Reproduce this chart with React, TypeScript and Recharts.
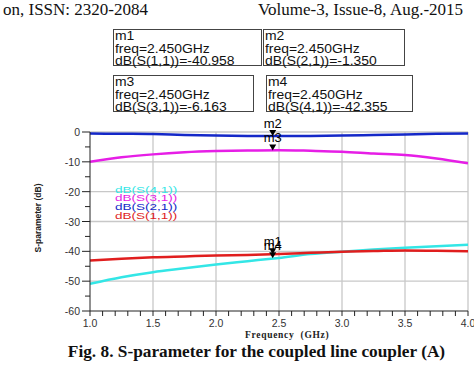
import React from 'react';
import { LineChart, Line, XAxis, YAxis, ReferenceLine, ReferenceDot } from 'recharts';

// ---- data ----
const freqGHz = [1.0, 1.25, 1.5, 1.75, 2.0, 2.25, 2.5, 2.75, 3.0, 3.25, 3.5, 3.75, 4.0];
const s11 = [-43.1, -42.5, -42.0, -41.7, -41.4, -41.2, -40.9, -40.5, -40.1, -39.9, -39.7, -39.8, -40.0];
const s21 = [-0.5, -0.6, -0.7, -1.0, -1.2, -1.3, -1.35, -1.3, -1.2, -1.0, -0.8, -0.6, -0.5];
const s31 = [-10.0, -8.5, -7.5, -6.8, -6.4, -6.2, -6.1, -6.3, -6.6, -7.2, -7.7, -8.9, -10.5];
const s41 = [-50.9, -48.7, -47.0, -45.7, -44.4, -43.3, -42.2, -40.9, -40.1, -39.4, -38.8, -38.3, -37.8];

const xTicks = [1.0, 1.1, 1.2, 1.3, 1.4, 1.5, 1.6, 1.7, 1.8, 1.9, 2.0, 2.1, 2.2, 2.3, 2.4, 2.5, 2.6, 2.7, 2.8, 2.9, 3.0, 3.1, 3.2, 3.3, 3.4, 3.5, 3.6, 3.7, 3.8, 3.9, 4.0];
const xMajor = [1.0, 1.5, 2.0, 2.5, 3.0, 3.5, 4.0];
const xGrid = [1.5, 2.0, 2.5, 3.0, 3.5, 4.0];
const yTicks = [0, -5, -10, -15, -20, -25, -30, -35, -40, -45, -50, -55, -60];
const yMajor = [0, -10, -20, -30, -40, -50, -60];
const yGrid = [0, -10, -20, -30, -40, -50];

const traceNames = ['dB(S(4,1))', 'dB(S(3,1))', 'dB(S(2,1))', 'dB(S(1,1))'];
const traceKeys = ['s41', 's31', 's21', 's11'];
const traceColors = ['#33e6e6', '#e61ee6', '#1428c8', '#e01e1e'];

const markerNames = ['m1', 'm2', 'm3', 'm4'];
const markerFreq = [2.45, 2.45, 2.45, 2.45];
const markerValues = [-40.958, -1.35, -6.163, -42.355];
const markerTraces = ['dB(S(1,1))', 'dB(S(2,1))', 'dB(S(3,1))', 'dB(S(4,1))'];
const markerValueText = ['-40.958', '-1.350', '-6.163', '-42.355'];

const data = freqGHz.map((f, i) => ({ f, s11: s11[i], s21: s21[i], s31: s31[i], s41: s41[i] }));

const SANS = '"Liberation Sans", Arial, sans-serif';
const SERIF = '"Liberation Serif", "Times New Roman", serif';

const XTick = (props: any) => {
  const { x, y, payload } = props;
  const v = payload.value;
  const major = xMajor.some((m) => Math.abs(m - v) < 1e-6);
  return (
    <g>
      <line x1={x} y1={y} x2={x} y2={y + 5} stroke="#222" strokeWidth={1} />
      {major && (
        <text x={x} y={y + 16} textAnchor="middle" fontFamily={SANS} fontSize={10.5} fill="#333">
          {v.toFixed(1)}
        </text>
      )}
    </g>
  );
};

const YTick = (props: any) => {
  const { x, y, payload } = props;
  const v = payload.value;
  const major = yMajor.includes(v);
  return (
    <g>
      <line x1={x - (major ? 8 : 5)} y1={y} x2={x} y2={y} stroke="#222" strokeWidth={1} />
      {major && (
        <text x={x - 10} y={y + 4} textAnchor="end" fontFamily={SANS} fontSize={10.5} fill="#333">
          {String(v)}
        </text>
      )}
    </g>
  );
};

const markerShape = (label: string) => (props: any) => {
  const { cx, cy } = props;
  return (
    <g>
      <polygon points={`${cx - 3.5},${cy - 6} ${cx + 3.5},${cy - 6} ${cx},${cy}`} fill="#000" />
      <text x={cx} y={cy - 8} textAnchor="middle" fontFamily={SANS} fontSize={13} fill="#000">
        {label}
      </text>
    </g>
  );
};

const boxPos = [
  { left: 113, top: 29, width: 149 },
  { left: 263, top: 29, width: 142 },
  { left: 113, top: 75, width: 141 },
  { left: 266, top: 75, width: 147 },
];

const stretch = (sx: number): React.CSSProperties => ({
  transform: `scaleX(${sx})`,
  transformOrigin: 'left center',
  whiteSpace: 'nowrap',
});

export default function App() {
  return (
    <div style={{ position: 'absolute', left: 0, top: 0, width: 474, height: 365, background: '#fff', overflow: 'hidden' }}>
      {/* header */}
      <div style={{ position: 'absolute', left: 3, top: 0, fontFamily: SERIF, fontSize: 17, whiteSpace: 'nowrap', color: '#111' }}>
        on, ISSN: 2320-2084
      </div>
      <div style={{ position: 'absolute', left: 258, top: 0, fontFamily: SERIF, fontSize: 17, whiteSpace: 'nowrap', color: '#111' }}>
        Volume-3, Issue-8, Aug.-2015
      </div>

      {/* marker readout boxes */}
      {markerNames.map((m, i) => (
        <div
          key={m}
          style={{
            position: 'absolute',
            left: boxPos[i].left,
            top: boxPos[i].top,
            width: boxPos[i].width,
            height: 37,
            border: '1px solid #444',
            boxSizing: 'border-box',
            fontFamily: SANS,
            fontSize: 12,
            lineHeight: '12.5px',
            padding: '0 0 0 1px',
            color: '#111',
            whiteSpace: 'nowrap',
            overflow: 'visible',
          }}
        >
          <div style={stretch(1.16)}>{m}</div>
          <div style={stretch(1.16)}>freq={markerFreq[i].toFixed(3)}GHz</div>
          <div style={stretch(1.16)}>
            {markerTraces[i]}={markerValueText[i]}
          </div>
        </div>
      ))}

      <div style={{ position: 'absolute', left: 0, top: 0 }}>
        <LineChart width={474} height={365} data={data} margin={{ top: 132, right: 6, bottom: 24, left: 0 }}>
          <XAxis
            dataKey="f"
            type="number"
            domain={[1, 4]}
            ticks={xTicks}
            interval={0}
            tickSize={0}
            tickMargin={0}
            tickLine={false}
            tick={XTick}
            axisLine={{ stroke: '#222', strokeWidth: 1 }}
            height={30}
            allowDataOverflow
          />
          <YAxis
            type="number"
            domain={[-60, 0]}
            ticks={yTicks}
            interval={0}
            tickSize={0}
            tickMargin={0}
            tickLine={false}
            tick={YTick}
            axisLine={{ stroke: '#222', strokeWidth: 1 }}
            width={90}
            allowDataOverflow
          />
          {xGrid.map((g) => (
            <ReferenceLine key={'x' + g} x={g} stroke="#c8c8c8" strokeWidth={1.3} />
          ))}
          {yGrid.map((g) => (
            <ReferenceLine key={'y' + g} y={g} stroke="#c8c8c8" strokeWidth={1.3} />
          ))}
          {traceKeys.map((k, i) => (
            <Line
              key={k}
              dataKey={k}
              type="monotone"
              stroke={traceColors[i]}
              strokeWidth={2.5}
              dot={false}
              isAnimationActive={false}
            />
          ))}
          {markerNames.map((m, i) => (
            <ReferenceDot
              key={'rd' + m}
              x={markerFreq[i]}
              y={markerValues[i]}
              ifOverflow="visible"
              shape={markerShape(m)}
            />
          ))}
        </LineChart>
      </div>

      {/* legend */}
      <div style={{ position: 'absolute', left: 115, top: 185.5, fontFamily: SANS, fontSize: 9, lineHeight: '8.7px' }}>
        {traceNames.map((n, i) => (
          <div key={n} style={{ ...stretch(1.5), color: traceColors[i] }}>
            {n}
          </div>
        ))}
      </div>

      {/* axis titles */}
      <div
        style={{
          position: 'absolute',
          left: 38,
          top: 218,
          transform: 'translate(-50%, -50%) rotate(-90deg)',
          fontFamily: SANS,
          fontWeight: 'bold',
          fontSize: 8.5,
          whiteSpace: 'nowrap',
          color: '#222',
        }}
      >
        S-parameter (dB)
      </div>
      <div
        style={{
          position: 'absolute',
          left: 245,
          top: 330,
          fontFamily: SERIF,
          fontWeight: 'bold',
          fontSize: 9.5,
          lineHeight: '10px',
          whiteSpace: 'nowrap',
          color: '#222',
          letterSpacing: 0.7,
        }}
      >
        Frequency&nbsp;&nbsp;(GHz)
      </div>

      {/* caption */}
      <div
        style={{
          position: 'absolute',
          left: 0,
          width: 474,
          top: 342,
          textAlign: 'center',
          paddingLeft: 39,
          boxSizing: 'border-box',
          fontFamily: SERIF,
          fontWeight: 'bold',
          fontSize: 17.3,
          whiteSpace: 'nowrap',
          color: '#111',
        }}
      >
        Fig. 8. S-parameter for the coupled line coupler (A)
      </div>
    </div>
  );
}
